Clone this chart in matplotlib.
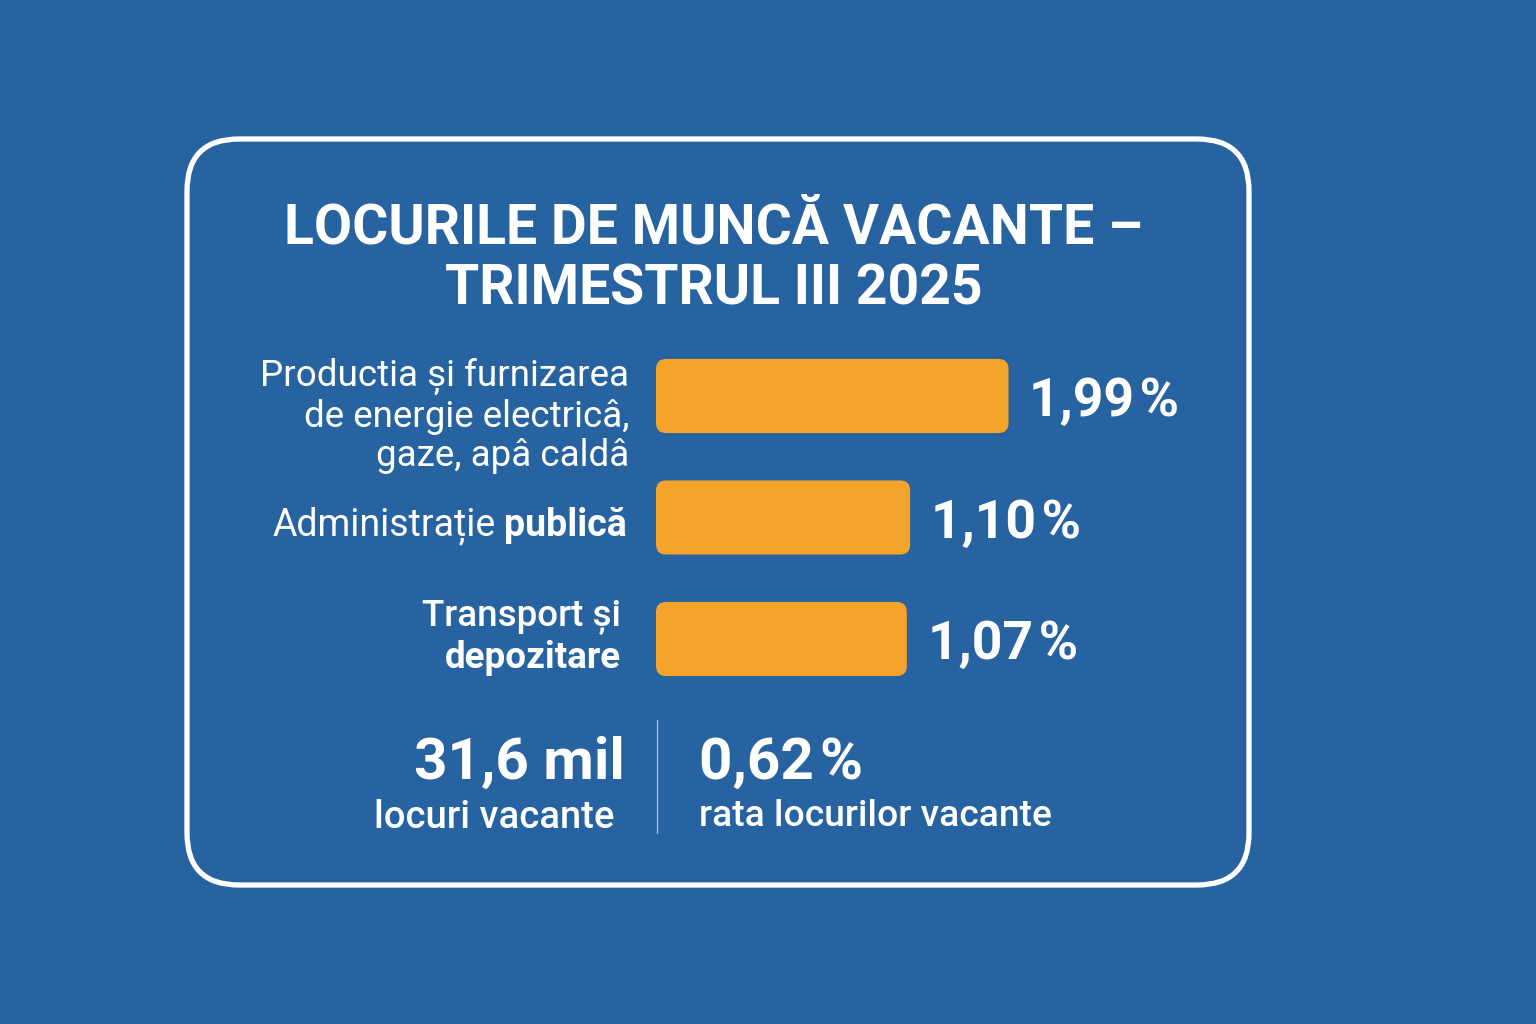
import numpy as np
import matplotlib
matplotlib.use('Agg')
import matplotlib.pyplot as plt
from matplotlib.patches import FancyBboxPatch
from matplotlib.transforms import IdentityTransform

plt.rcParams['font.family'] = ['Roboto', 'DejaVu Sans']

# culori
BG = '#2763a0'
PORTOCALIU = '#f4a32b'

# date
titlu = 'LOCURILE DE MUNCĂ VACANTE –\nTRIMESTRUL III 2025'
categorii = ['Productia și furnizarea\nde energie electricâ,\ngaze, apâ caldâ',
             'Administrație publică',
             'Transport și\ndepozitare']
valori = [1.99, 1.10, 1.07]
etichete_valori = ['1,99\u200a%', '1,10\u200a%', '1,07\u200a%']
total_locuri = '31,6 mil'
total_text = 'locuri vacante'
rata = '0,62\u200a%'
rata_text = 'rata locurilor vacante'

W, H = 1536, 1024
fig = plt.figure(figsize=(W / 100, H / 100), dpi=100)
fig.patch.set_facecolor(BG)

# axa de fundal in pixeli (y in jos)
bg = fig.add_axes([0, 0, 1, 1])
bg.set_xlim(0, W)
bg.set_ylim(H, 0)
bg.axis('off')

cadru = FancyBboxPatch((187, 139), 1062, 746,
                       boxstyle='round,pad=0,rounding_size=52',
                       fc='none', ec='white', lw=3.8)
bg.add_patch(cadru)

bg.text(714, 259, titlu, ha='center', va='center', color='white',
        fontsize=39.8, fontweight='bold', linespacing=1.24)

# axa barelor
baza = -1.2
ax = fig.add_axes([656 / W, (H - 335.25 - 364.5) / H, 442 / W, 364.5 / H])
ax.set_xlim(baza, baza + 4.0)
ax.set_ylim(2.5, -0.5)
ax.axis('off')
ax.patch.set_visible(False)

y = np.arange(len(valori))
bare = ax.barh(y, np.array(valori) - baza, left=baza, height=0.61,
               color=PORTOCALIU)

# colturi rotunjite
fig.canvas.draw()
for b in bare:
    e = b.get_window_extent()
    b.set_visible(False)
    p = FancyBboxPatch((e.x0, e.y0), e.width, e.height,
                       boxstyle='round,pad=0,rounding_size=10',
                       fc=PORTOCALIU, ec='none', transform=IdentityTransform())
    fig.add_artist(p)

for yi, v, t in zip(y, valori, etichete_valori):
    ax.text(v + 0.19, yi + 0.045, t, ha='left', va='center', color='white',
            fontsize=38.5, fontweight='bold')

# etichete categorii
bg.text(629, 416, categorii[0], ha='right', va='center', color='white',
        fontsize=26.5, multialignment='right', linespacing=1.12)

r = fig.canvas.get_renderer()
parti = categorii[1].split(' ')
t2 = bg.text(627, 526, parti[1], ha='right', va='center', color='white',
             fontsize=27, fontweight='bold')
ext = t2.get_window_extent(renderer=r)
x_st = bg.transData.inverted().transform((ext.x0, 0))[0]
bg.text(x_st - 8, 526, parti[0], ha='right', va='center', color='white',
        fontsize=27)

l3 = categorii[2].split('\n')
bg.text(621, 617, l3[0], ha='right', va='center', color='white',
        fontsize=26.5, fontweight='medium')
bg.text(621, 658, l3[1], ha='right', va='center', color='white',
        fontsize=26.5, fontweight='bold')

# statistici jos
bg.text(625, 763, total_locuri, ha='right', va='center', color='white',
        fontsize=42, fontweight='bold')
bg.text(614, 817, total_text, ha='right', va='center', color='white',
        fontsize=27.5, fontweight='medium')
bg.plot([657, 657], [720, 833], color='#9fb7d6', lw=1)
bg.text(699, 763, rata, ha='left', va='center', color='white',
        fontsize=42, fontweight='bold')
bg.text(699, 817, rata_text, ha='left', va='center', color='white',
        fontsize=26.8, fontweight='medium')

fig.savefig('out.png', dpi=100, facecolor=BG)
